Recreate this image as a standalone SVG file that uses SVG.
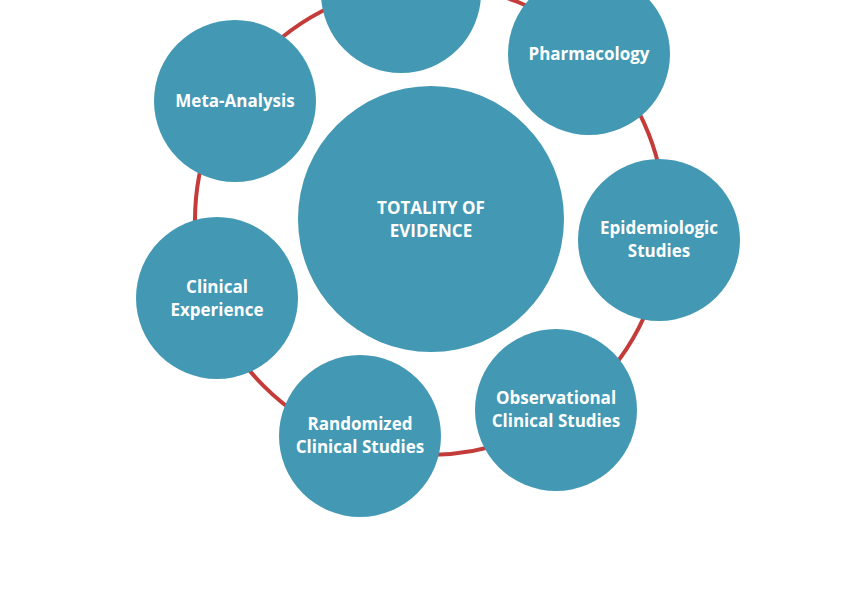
<svg xmlns="http://www.w3.org/2000/svg" width="857" height="600" viewBox="0 0 857 600">
<style>
.n{fill:#4398b3}
.t{font-family:"Open Sans","Liberation Sans",sans-serif;font-weight:bold;font-size:17px;fill:#fff;text-anchor:middle}
</style>
<rect width="857" height="600" fill="#fff"/>
<g id="connectors"><circle cx="430" cy="220" r="235" fill="none" stroke="#c33c3a" stroke-width="4"/></g>
<g id="top"><circle class="n" cx="401" cy="-7" r="80"/></g>
<g id="meta"><circle class="n" cx="235" cy="101" r="81"/><text class="t" x="235" y="107">Meta-Analysis</text></g>
<g id="pharm"><circle class="n" cx="589" cy="54" r="81"/><text class="t" x="589" y="60">Pharmacology</text></g>
<g id="epi"><circle class="n" cx="659" cy="240" r="81"/><text class="t" x="659" y="234">Epidemiologic</text><text class="t" x="659" y="257">Studies</text></g>
<g id="obs"><circle class="n" cx="556" cy="410" r="81"/><text class="t" x="556" y="404">Observational</text><text class="t" x="556" y="427">Clinical Studies</text></g>
<g id="rand"><circle class="n" cx="360" cy="436" r="81"/><text class="t" x="360" y="430">Randomized</text><text class="t" x="360" y="453">Clinical Studies</text></g>
<g id="clin"><circle class="n" cx="217" cy="298" r="81"/><text class="t" x="217" y="293">Clinical</text><text class="t" x="217" y="316">Experience</text></g>
<g id="center"><circle class="n" cx="431" cy="219" r="133"/><text class="t" x="431" y="214">TOTALITY OF</text><text class="t" x="431" y="237">EVIDENCE</text></g>
</svg>
